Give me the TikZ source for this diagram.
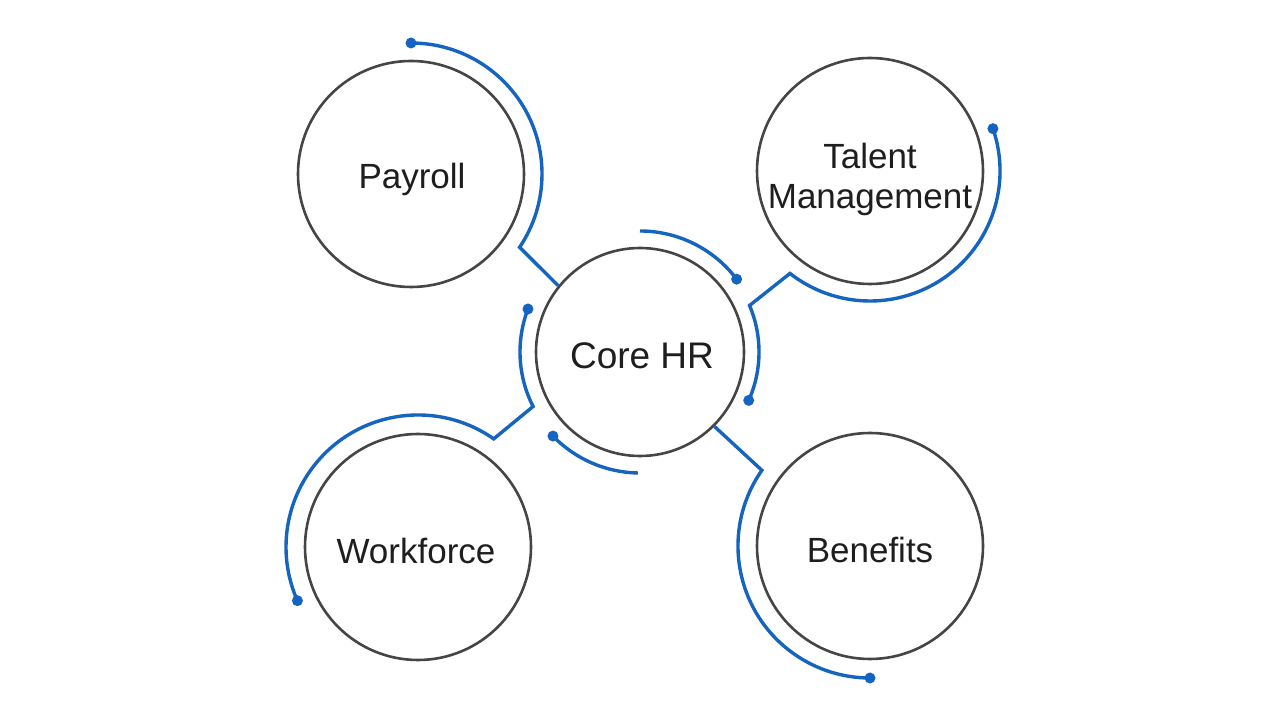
\documentclass[tikz,border=0pt]{standalone}
\usepackage{fontspec}
\setmainfont{Liberation Sans}
\usetikzlibrary{calc}
\definecolor{hrblue}{HTML}{1565C0}
\definecolor{ringgray}{HTML}{454545}
\definecolor{txt}{HTML}{1E1E1E}
\tikzset{
  hub/.style={circle, draw=ringgray, line width=2.6pt, fill=white, inner sep=0pt, minimum size=#1},
  lbl/.style={text=txt, align=center, inner sep=0pt, font=\fontsize{35}{40}\selectfont},
  conn/.style={draw=hrblue, line width=3.4pt, line join=miter},
  enddot/.style={fill=hrblue}
}
\begin{document}
\begin{tikzpicture}[x=1pt,y=1pt]
\useasboundingbox[fill=white] (0,0) rectangle (1280,720);
% nodes
\node[hub=208pt] (C) at (640,368) {};
\node[hub=226pt] (P) at (411,546) {};
\node[hub=226pt] (T) at (870,549) {};
\node[hub=226pt] (W) at (418,173) {};
\node[hub=226pt] (B) at (870,174) {};
\node[lbl, font=\fontsize{37}{40}\selectfont] (Ct) at ($(C)+(2,-4)$) {Core HR};
\node[lbl] (Pt) at ($(P)+(1,-5)$) {Payroll};
\node[lbl] (Tt) at ($(T)+(0,-8)$) {Talent\\Management};
\node[lbl] (Wt) at ($(W)+(-2,-4)$) {Workforce};
\node[lbl] (Bt) at ($(B)+(0,-4)$) {Benefits};

% Payroll -> Core HR
\draw[conn] ($(P)+(90:131)$) coordinate (p1)
  arc[start angle=90, end angle=-34, radius=131] coordinate (p2) -- (C.141);
\fill[enddot] (p1) circle (5.5);

% Talent -> Core HR (right arc)
\draw[conn] ($(T)+(19:130)$) coordinate (t1)
  arc[start angle=19, end angle=-128, radius=130] coordinate (t2)
  -- ($(C)+(23:119)$) coordinate (t3)
  arc[start angle=23, end angle=-24, radius=119] coordinate (t4);
\fill[enddot] (t1) circle (5.5);
\fill[enddot] (t4) circle (5.5);

% Core HR top arc
\draw[conn] ($(C)+(90:121)$) coordinate (c1)
  arc[start angle=90, end angle=37, radius=121] coordinate (c2);
\fill[enddot] (c2) circle (5.5);

% Core HR bottom-left arc
\draw[conn] ($(C)+(224:121)$) coordinate (c3)
  arc[start angle=224, end angle=269, radius=121] coordinate (c4);
\fill[enddot] (c3) circle (5.5);

% Core HR left arc -> Workforce
\draw[conn] ($(C)+(159:120)$) coordinate (w1)
  arc[start angle=159, end angle=207, radius=120] coordinate (w2)
  -- ($(W)+(55:132)$) coordinate (w3)
  arc[start angle=55, end angle=204, radius=132] coordinate (w4);
\fill[enddot] (w1) circle (5.5);
\fill[enddot] (w4) circle (5.5);

% Core HR -> Benefits
\draw[conn] (C.-45) -- ($(B)+(145:132)$) coordinate (b1)
  arc[start angle=145, end angle=270, radius=132] coordinate (b2);
\fill[enddot] (b2) circle (5.5);
\end{tikzpicture}
\end{document}
